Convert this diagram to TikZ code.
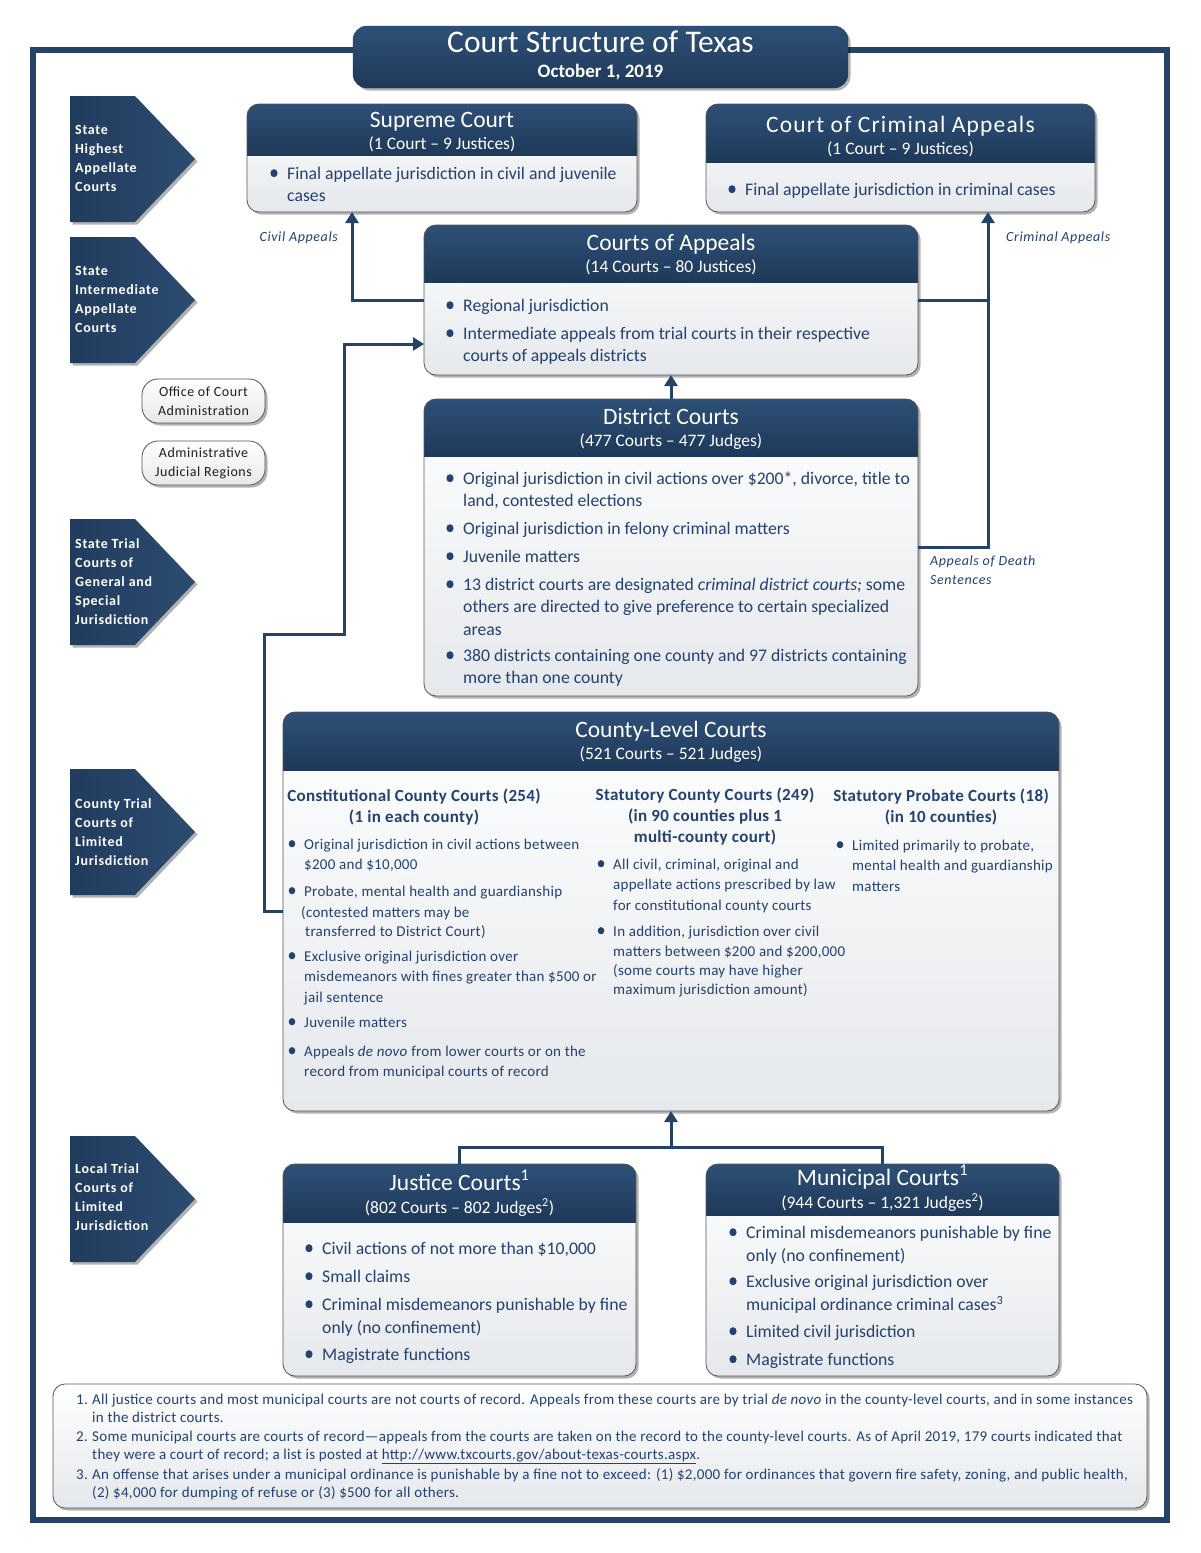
\documentclass[tikz,border=0pt]{standalone}
\usepackage{fontspec}
\setmainfont{Carlito}
\usetikzlibrary{shadows,fit,calc,arrows.meta}
\definecolor{navyT}{RGB}{46,80,119}
\definecolor{navyB}{RGB}{30,57,89}
\definecolor{navyL}{RGB}{33,60,93}
\definecolor{navyR}{RGB}{43,76,113}
\definecolor{navy}{RGB}{37,67,102}
\definecolor{txtblue}{RGB}{35,65,113}
\definecolor{bodyB}{RGB}{229,232,236}
\definecolor{bordc}{RGB}{85,85,85}
\definecolor{pilltxt}{RGB}{30,30,30}
\newcounter{tn}
\newcommand\TL[1]{\begin{tabular}[t]{@{}l@{}}#1\end{tabular}}
\newcommand\TC[1]{\begin{tabular}[t]{@{}c@{}}#1\end{tabular}}
\tikzset{
  x=1pt, y=-1pt,
  shad/.style={drop shadow={shadow xshift=2.5pt, shadow yshift=-2.5pt, opacity=0.3, fill=black}},
  boxbody/.style={inner sep=0pt, outer sep=0pt, rounded corners=12pt, top color=white, bottom color=bodyB, shad},
  ttl/.style={anchor=base, inner sep=0pt, text=white, font=\fontsize{23.5}{27}\selectfont},
  subt/.style={anchor=base, inner sep=0pt, text=white, font=\fontsize{17.5}{20}\selectfont},
  bA/.style={inner sep=0pt, text=txtblue, font=\fontsize{17.7}{22.8}\selectfont},
  bJ/.style={inner sep=0pt, text=txtblue, font=\fontsize{17.7}{23.8}\selectfont},
  bC/.style={inner sep=0pt, text=txtblue, font={\fontsize{15}{20.5}\selectfont\addfontfeature{LetterSpace=1.9}}},
  bC2/.style={inner sep=0pt, text=txtblue, font={\fontsize{15}{19}\selectfont\addfontfeature{LetterSpace=1.9}}},
  hC/.style={anchor=base, inner sep=0pt, text=txtblue, font={\bfseries\fontsize{17}{21}\selectfont\addfontfeature{LetterSpace=2}}},
  ft/.style={inner sep=0pt, text=txtblue, font={\fontsize{15}{18.7}\selectfont\addfontfeature{LetterSpace=2}}},
  chevtxt/.style={inner sep=0pt, text=white, font={\bfseries\fontsize{14}{19}\selectfont\addfontfeature{LetterSpace=5}}},
  lbl/.style={inner sep=0pt, text=txtblue, font={\itshape\fontsize{14}{19}\selectfont\addfontfeature{LetterSpace=4.4}}},
  pill/.style={draw=bordc, line width=0.8pt, rounded corners=16pt, top color=white, bottom color=bodyB, shad,
               minimum width=123pt, minimum height=44pt, inner sep=0pt, align=center, text=pilltxt,
               font={\fontsize{14}{19}\selectfont\addfontfeature{LetterSpace=4}}},
  conn/.style={draw=navy, line width=3pt},
  arr/.style={conn, -{Triangle[width=13pt,length=11pt]}},
}
\newcommand\cbox[6]{%
  \node[boxbody, fit={(#2,#3) (#4,#5)}] (#1) {};
  \begin{scope}
    \clip[rounded corners=12pt] (#2,#3) rectangle (#4,#5);
    \fill[top color=navyT, bottom color=navyB] (#2,#3) rectangle (#4,#6);
  \end{scope}
  \draw[bordc, line width=0.8pt, rounded corners=12pt] (#2,#3) rectangle (#4,#5);
}
\newcommand\bt[4][bA]{%
  \stepcounter{tn}%
  \fill[txtblue] (#2-13,#3-5.8) ellipse (3.6 and 4);
  \node[#1, anchor=base west] (t\arabic{tn}) at (#2,#3) {\TL{#4}};
}
\newcommand\bs[3]{%
  \stepcounter{tn}%
  \fill[txtblue] (#1-12,#2-5.3) ellipse (3.3 and 3.6);
  \node[bC, anchor=base west] (t\arabic{tn}) at (#1,#2) {\TL{#3}};
}
\newcommand\tx[4][bC]{%
  \stepcounter{tn}%
  \node[#1, anchor=base west] (t\arabic{tn}) at (#2,#3) {\TL{#4}};
}
\newcommand\chev[4]{%
  \path[left color=navyL, right color=navyR, shad] (70,#2) -- (135,#2) -- (195,#2+63) -- (135,#2+126) -- (70,#2+126) -- cycle;
  \node[chevtxt, anchor=base west] (#1) at (75,#3) {\TL{#4}};
}
\begin{document}
\begin{tikzpicture}
\useasboundingbox (0,0) rectangle (1200,1553);
\fill[white] (0,0) rectangle (1200,1553);
% outer frame
\draw[navy, line width=6pt] (33,50) rectangle (1167,1520);
% title
\node[fit={(353,26) (848,88)}, inner sep=0pt, rounded corners=14pt, top color=navyT, bottom color=navyB, draw=navyB, shad] (title) {};
\node[anchor=base, inner sep=0pt, text=white, font=\fontsize{31.5}{34}\selectfont] (tt1) at (600.5,52) {Court Structure of Texas};
\node[anchor=base, inner sep=0pt, text=white, font=\bfseries\fontsize{19}{22}\selectfont] (tt2) at (600.5,77) {October 1, 2019};

% chevrons
\chev{ch1}{96}{134}{State\\Highest\\Appellate\\Courts}
\chev{ch2}{237}{275}{State\\Intermediate\\Appellate\\Courts}
\chev{ch3}{519}{548}{State Trial\\Courts of\\General and\\Special\\Jurisdiction}
\chev{ch4}{769}{808}{County Trial\\Courts of\\Limited\\Jurisdiction}
\chev{ch5}{1136}{1173}{Local Trial\\Courts of\\Limited\\Jurisdiction}

% pills
\node[pill] (oca) at (203.5,401) {Office of Court\\Administration};
\node[pill] (ajr) at (203.5,463) {Administrative\\Judicial Regions};

\coordinate (civx) at (352,0);
\coordinate (crx) at (988,0);
\coordinate (k1) at (264,634);
\coordinate (k2) at (344,344);
\coordinate (jm) at (671,1147);

% Supreme Court
\cbox{sc}{247}{104}{637}{212}{155}
\node[ttl] (sct) at (442,127) {Supreme Court};
\node[subt] (scs) at (442,149) {(1 Court – 9 Justices)};
\bt{287}{179}{Final appellate jurisdiction in civil and juvenile\\cases}

% Court of Criminal Appeals
\cbox{cca}{706}{104}{1095}{212}{162}
\node[ttl, font={\fontsize{23.5}{27}\selectfont\addfontfeature{LetterSpace=5}}] (ccat) at (900.5,132) {Court of Criminal Appeals};
\node[subt] (ccas) at (900.5,154) {(1 Court – 9 Justices)};
\bt{745}{195}{Final appellate jurisdiction in criminal cases}

% Courts of Appeals
\cbox{coa}{424}{225}{918}{375}{282}
\node[ttl] (coat) at (671,250) {Courts of Appeals};
\node[subt] (coas) at (671,272) {(14 Courts – 80 Justices)};
\bt{463}{311}{Regional jurisdiction}
\bt{463}{339}{Intermediate appeals from trial courts in their respective\\courts of appeals districts}

% District Courts
\cbox{dc}{424}{399}{918}{696}{456}
\node[ttl] (dct) at (671,424) {District Courts};
\node[subt] (dcs) at (671,446) {(477 Courts – 477 Judges)};
\bt{463}{484}{Original jurisdiction in civil actions over \$200*, divorce, title to\\land, contested elections}
\bt{463}{534}{Original jurisdiction in felony criminal matters}
\bt{463}{562}{Juvenile matters}
\bt{463}{590}{13 district courts are designated \textit{criminal district courts;} some\\others are directed to give preference to certain specialized\\areas}
\bt{463}{661}{380 districts containing one county and 97 districts containing\\more than one county}

% County-Level Courts
\cbox{cl}{283}{712}{1059}{1111}{770}
\node[ttl] (clt) at (671,737) {County-Level Courts};
\node[subt] (cls) at (671,759) {(521 Courts – 521 Judges)};
\node[hC] (h1) at (414,801) {\TC{Constitutional County Courts (254)\\(1 in each county)}};
\node[hC] (h2) at (705,800) {\TC{Statutory County Courts (249)\\(in 90 counties plus 1\\multi-county court)}};
\node[hC] (h3) at (941,801) {\TC{Statutory Probate Courts (18)\\(in 10 counties)}};
\bs{304}{849}{Original jurisdiction in civil actions between\\\$200 and \$10,000}
\bs{304}{896}{Probate, mental health and guardianship}
\tx{301}{917}{(contested matters may be}
\tx{305}{936}{transferred to District Court)}
\bs{304}{961}{Exclusive original jurisdiction over\\misdemeanors with fines greater than \$500 or\\jail sentence}
\bs{304}{1027}{Juvenile matters}
\bs{304}{1056}{Appeals \textit{de novo} from lower courts or on the\\record from municipal courts of record}
\bs{613}{869}{All civil, criminal, original and\\appellate actions prescribed by law\\for constitutional county courts}
\bs{613}{936}{In addition, jurisdiction over civil\\matters between \$200 and \$200,000}
\tx[bC2]{613}{975}{(some courts may have higher\\maximum jurisdiction amount)}
\bs{852}{850}{Limited primarily to probate,\\mental health and guardianship\\matters}

% Justice Courts
\cbox{jc}{283}{1164}{636}{1376}{1222}
\node[ttl] (jct) at (459.5,1190) {Justice Courts\textsuperscript{1}};
\node[subt] (jcs) at (459.5,1213) {(802 Courts – 802 Judges\textsuperscript{2})};
\bt[bJ]{322}{1254}{Civil actions of not more than \$10,000}
\bt[bJ]{322}{1282}{Small claims}
\bt[bJ]{322}{1310}{Criminal misdemeanors punishable by fine\\only (no confinement)}
\bt[bJ]{322}{1360}{Magistrate functions}

% Municipal Courts
\cbox{mc}{706}{1164}{1059}{1376}{1215}
\node[ttl] (mct) at (882.5,1185) {Municipal Courts\textsuperscript{1}};
\node[subt] (mcs) at (882.5,1208) {(944 Courts – 1,321 Judges\textsuperscript{2})};
\bt[bJ]{746}{1238}{Criminal misdemeanors punishable by fine\\only (no confinement)}
\bt[bJ]{746}{1287}{Exclusive original jurisdiction over\\municipal ordinance criminal cases\textsuperscript{3}}
\bt[bJ]{746}{1337}{Limited civil jurisdiction}
\bt[bJ]{746}{1365}{Magistrate functions}

% connectors
\draw[arr] (coa.west) -| (civx |- sc.south);
\draw[arr] (coa.east) -| (crx |- cca.south);
\draw[conn] (dc.east) -| (crx |- coa.east);
\draw[arr] (dc.north) -- (coa.south);
\draw[arr] (cl.west) -| (k1) -| (k2) -- (k2 -| coa.west);
\draw[conn] (jc.north) |- (jm) -| (mc.north);
\draw[arr] (jm) -- (jm |- cl.south);
\node[lbl, anchor=base east] (lciv) at (338,241) {Civil Appeals};
\node[lbl, anchor=base west] (lcr) at (1006,241) {Criminal Appeals};
\node[lbl, anchor=base west] (ldeath) at (930,565) {\TL{Appeals of Death\\Sentences}};

% footnotes
\node[fit={(53,1384) (1147,1508)}, inner sep=0pt, rounded corners=12pt, draw=bordc, line width=0.8pt, top color=white, bottom color=bodyB, shad] (fn) {};
\tx[ft]{76}{1404}{1.}
\tx[ft]{92}{1404}{All justice courts and most municipal courts are not courts of record. Appeals from these courts are by trial \textit{de novo} in the county-level courts, and in some instances\\in the district courts.}
\tx[ft]{76}{1441}{2.}
\tx[ft]{92}{1441}{Some municipal courts are courts of record—appeals from the courts are taken on the record to the county-level courts. As of  April 2019, 179 courts indicated that\\they were a court of record; a list is posted at \underline{http://www.txcourts.gov/about-texas-courts.aspx}.}
\tx[ft]{76}{1479}{3.}
\tx[ft]{92}{1479}{An offense that arises under a municipal ordinance is punishable by a fine not to exceed: (1) \$2,000 for ordinances that govern fire safety, zoning, and public health,\\(2) \$4,000 for dumping of refuse or (3) \$500 for all others.}
\end{tikzpicture}
\end{document}
